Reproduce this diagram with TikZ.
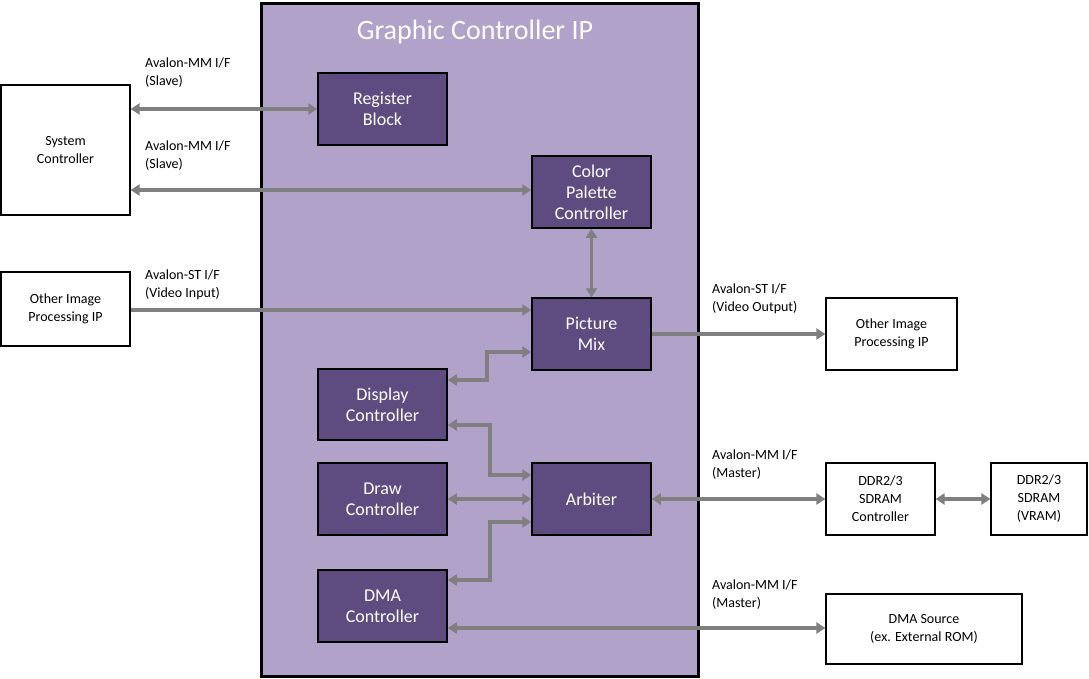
\documentclass[tikz,border=0pt]{standalone}
\usepackage{fontspec}
\setmainfont{Carlito}
\usetikzlibrary{arrows.meta}
\definecolor{bgp}{HTML}{B1A2C9}
\definecolor{dkp}{HTML}{5E4B7F}
\definecolor{arr}{HTML}{7F7F7F}
\begin{document}
\begin{tikzpicture}[x=1pt,y=-1pt,
 blk/.style={draw=black,line width=1.5pt,fill=dkp,text=white,font=\fontsize{18}{21}\selectfont,align=center,inner sep=0pt},
 ext/.style={draw=black,line width=1.2pt,fill=white,font=\fontsize{14}{18}\selectfont,align=center,inner sep=0pt},
 con/.style={draw=arr,line width=3.5pt,{Triangle[length=9pt,width=11pt]}-{Triangle[length=9pt,width=11pt]}},
 one/.style={draw=arr,line width=3.5pt,-{Triangle[length=9pt,width=11pt]}},
 lab/.style={font=\fontsize{14}{18}\selectfont,align=left,anchor=north west,inner sep=0pt}]
\useasboundingbox (0,0) rectangle (1089,678);
\node[draw=black,line width=2.5pt,fill=bgp,minimum width=437pt,minimum height=673pt,anchor=north west,inner sep=0pt] (ip) at (260,2) {};
\node[text=white,font=\fontsize{28}{32}\selectfont] (title) at (475,32) {Graphic Controller IP};
\node[blk,minimum width=129pt,minimum height=72pt] (reg) at (382.5,109) {Register\\Block};
\node[blk,minimum width=119pt,minimum height=72pt] (pal) at (591.5,192) {Color\\Palette\\Controller};
\node[blk,minimum width=119pt,minimum height=72pt] (mix) at (591.5,334) {Picture\\Mix};
\node[blk,minimum width=129pt,minimum height=71pt] (disp) at (382.5,404.5) {Display\\Controller};
\node[blk,minimum width=129pt,minimum height=72pt] (draw) at (382.5,499) {Draw\\Controller};
\node[blk,minimum width=119pt,minimum height=72pt] (arb) at (591.5,499) {Arbiter};
\node[blk,minimum width=129pt,minimum height=72pt] (dma) at (382.5,606) {DMA\\Controller};
\node[ext,minimum width=129pt,minimum height=130pt] (sys) at (65.5,150) {System\\Controller};
\node[ext,minimum width=129pt,minimum height=74pt] (oil) at (65.5,309) {Other Image\\Processing IP};
\node[ext,minimum width=131pt,minimum height=72pt] (oir) at (891.5,334) {Other Image\\Processing IP};
\node[ext,minimum width=109pt,minimum height=72pt] (ddr) at (880.5,499) {DDR2/3\\SDRAM\\Controller};
\node[ext,minimum width=96pt,minimum height=72pt] (vram) at (1039,499) {DDR2/3\\SDRAM\\(VRAM)};
\node[ext,minimum width=196pt,minimum height=70pt] (src) at (924,629) {DMA Source\\(ex. External ROM)};
\coordinate (c1) at (487,380); \coordinate (c2) at (487,352);
\coordinate (c3) at (490,425); \coordinate (c4) at (490,475);
\coordinate (c5) at (490,580); \coordinate (c6) at (490,522);
\draw[con] (sys.east|-0,109) -- (reg.west|-0,109);
\draw[con] (sys.east|-0,190) -- (pal.west|-0,190);
\draw[one] (oil.east|-0,310) -- (mix.west|-0,310);
\draw[con] (pal.south) -- (mix.north);
\draw[one] (mix.east) -- (oir.west);
\draw[con] (disp.east|-c1) -- (c1) -- (c2) -- (mix.west|-c2);
\draw[con] (disp.east|-c3) -- (c3) -- (c4) -- (arb.west|-c4);
\draw[con] (draw.east) -- (arb.west);
\draw[con] (dma.east|-c5) -- (c5) -- (c6) -- (arb.west|-c6);
\draw[con] (arb.east) -- (ddr.west);
\draw[con] (ddr.east) -- (vram.west);
\draw[con] (dma.east|-0,628) -- (src.west|-0,628);
\node[lab] (l1) at (145,58) {Avalon-MM I/F\\(Slave)};
\node[lab] (l2) at (145,141) {Avalon-MM I/F\\(Slave)};
\node[lab] (l3) at (145,270) {Avalon-ST I/F\\(Video Input)};
\node[lab] (l4) at (712,284) {Avalon-ST I/F\\(Video Output)};
\node[lab] (l5) at (712,450) {Avalon-MM I/F\\(Master)};
\node[lab] (l6) at (712,580) {Avalon-MM I/F\\(Master)};
\end{tikzpicture}
\end{document}
